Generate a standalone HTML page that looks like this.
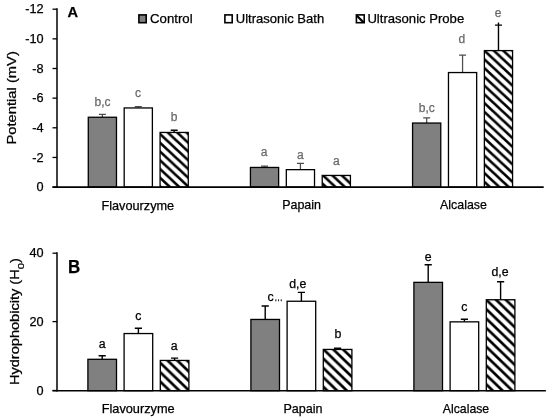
<!DOCTYPE html>
<html><head><meta charset="utf-8"><title>Chart</title>
<style>html,body{margin:0;padding:0;background:#fff}svg{display:block}text{font-family:"Liberation Sans", Arial, sans-serif;stroke:#000;stroke-width:0.25px}</style>
</head><body>
<svg width="550" height="420" viewBox="0 0 550 420">
<defs>
<pattern id="h0" patternUnits="userSpaceOnUse" x="158.33" y="132.45" width="9.4" height="8.75"><rect width="9.4" height="8.75" fill="#fff"/><path d="M-9.4,-8.75 L18.8,17.5 M-9.4,0 L9.4,17.5 M0,-8.75 L18.8,8.75" stroke="#000" stroke-width="2.6" fill="none"/></pattern>
<pattern id="h1" patternUnits="userSpaceOnUse" x="323.02" y="175.45" width="9.4" height="8.75"><rect width="9.4" height="8.75" fill="#fff"/><path d="M-9.4,-8.75 L18.8,17.5 M-9.4,0 L9.4,17.5 M0,-8.75 L18.8,8.75" stroke="#000" stroke-width="2.6" fill="none"/></pattern>
<pattern id="h2" patternUnits="userSpaceOnUse" x="484.37" y="50.60" width="9.4" height="8.75"><rect width="9.4" height="8.75" fill="#fff"/><path d="M-9.4,-8.75 L18.8,17.5 M-9.4,0 L9.4,17.5 M0,-8.75 L18.8,8.75" stroke="#000" stroke-width="2.6" fill="none"/></pattern>
<pattern id="h3" patternUnits="userSpaceOnUse" x="157.80" y="360.45" width="9.75" height="9.4"><rect width="9.75" height="9.4" fill="#fff"/><path d="M-9.75,-9.4 L19.5,18.8 M-9.75,0 L9.75,18.8 M0,-9.4 L19.5,9.4" stroke="#000" stroke-width="2.7" fill="none"/></pattern>
<pattern id="h4" patternUnits="userSpaceOnUse" x="323.60" y="349.45" width="9.75" height="9.4"><rect width="9.75" height="9.4" fill="#fff"/><path d="M-9.75,-9.4 L19.5,18.8 M-9.75,0 L9.75,18.8 M0,-9.4 L19.5,9.4" stroke="#000" stroke-width="2.7" fill="none"/></pattern>
<pattern id="h5" patternUnits="userSpaceOnUse" x="486.30" y="299.75" width="9.75" height="9.4"><rect width="9.75" height="9.4" fill="#fff"/><path d="M-9.75,-9.4 L19.5,18.8 M-9.75,0 L9.75,18.8 M0,-9.4 L19.5,9.4" stroke="#000" stroke-width="2.7" fill="none"/></pattern>
</defs>
<rect width="550" height="420" fill="#fff"/>
<line x1="52.5" y1="9.20" x2="57.0" y2="9.20" stroke="#000" stroke-width="1.3"/>
<text x="43.6" y="13.4" font-size="12" text-anchor="end" fill="#000" textLength="18.38" lengthAdjust="spacingAndGlyphs">-12</text>
<line x1="52.5" y1="38.85" x2="57.0" y2="38.85" stroke="#000" stroke-width="1.3"/>
<text x="43.6" y="43.05" font-size="12" text-anchor="end" fill="#000" textLength="18.38" lengthAdjust="spacingAndGlyphs">-10</text>
<line x1="52.5" y1="68.50" x2="57.0" y2="68.50" stroke="#000" stroke-width="1.3"/>
<text x="43.6" y="72.7" font-size="12" text-anchor="end" fill="#000" textLength="11.31" lengthAdjust="spacingAndGlyphs">-8</text>
<line x1="52.5" y1="98.15" x2="57.0" y2="98.15" stroke="#000" stroke-width="1.3"/>
<text x="43.6" y="102.35" font-size="12" text-anchor="end" fill="#000" textLength="11.31" lengthAdjust="spacingAndGlyphs">-6</text>
<line x1="52.5" y1="127.80" x2="57.0" y2="127.80" stroke="#000" stroke-width="1.3"/>
<text x="43.6" y="132.0" font-size="12" text-anchor="end" fill="#000" textLength="11.31" lengthAdjust="spacingAndGlyphs">-4</text>
<line x1="52.5" y1="157.45" x2="57.0" y2="157.45" stroke="#000" stroke-width="1.3"/>
<text x="43.6" y="161.65" font-size="12" text-anchor="end" fill="#000" textLength="11.31" lengthAdjust="spacingAndGlyphs">-2</text>
<line x1="52.5" y1="187.10" x2="57.0" y2="187.10" stroke="#000" stroke-width="1.3"/>
<text x="43.6" y="191.3" font-size="12" text-anchor="end" fill="#000" textLength="7.07" lengthAdjust="spacingAndGlyphs">0</text>
<path d="M102.38,117.10 V114.40 M98.88,114.40 H105.88" stroke="#4d4d4d" stroke-width="1.25" fill="none"/>
<rect x="88.28" y="117.25" width="28.20" height="69.85" fill="#808080" stroke="#000" stroke-width="1.3"/>
<path d="M138.28,107.80 V106.70 M134.78,106.70 H141.78" stroke="#4d4d4d" stroke-width="1.25" fill="none"/>
<rect x="124.18" y="107.95" width="28.20" height="79.15" fill="#fff" stroke="#000" stroke-width="1.3"/>
<path d="M174.18,132.30 V130.30 M170.68,130.30 H177.68" stroke="#000" stroke-width="1.4" fill="none"/>
<rect x="160.08" y="132.45" width="28.20" height="54.65" fill="url(#h0)" stroke="#000" stroke-width="1.3"/>
<path d="M264.53,167.30 V166.10 M261.03,166.10 H268.03" stroke="#4d4d4d" stroke-width="1.25" fill="none"/>
<rect x="250.43" y="167.45" width="28.20" height="19.65" fill="#808080" stroke="#000" stroke-width="1.3"/>
<path d="M300.43,169.50 V163.30 M296.93,163.30 H303.93" stroke="#4d4d4d" stroke-width="1.25" fill="none"/>
<rect x="286.32" y="169.65" width="28.20" height="17.45" fill="#fff" stroke="#000" stroke-width="1.3"/>
<rect x="322.22" y="175.45" width="28.20" height="11.65" fill="url(#h1)" stroke="#000" stroke-width="1.3"/>
<path d="M426.68,122.90 V117.90 M423.18,117.90 H430.18" stroke="#4d4d4d" stroke-width="1.25" fill="none"/>
<rect x="412.57" y="123.05" width="28.20" height="64.05" fill="#808080" stroke="#000" stroke-width="1.3"/>
<path d="M462.57,72.40 V55.00 M459.07,55.00 H466.07" stroke="#4d4d4d" stroke-width="1.25" fill="none"/>
<rect x="448.47" y="72.55" width="28.20" height="114.55" fill="#fff" stroke="#000" stroke-width="1.3"/>
<path d="M498.47,50.45 V25.10 M494.97,25.10 H501.97" stroke="#000" stroke-width="1.4" fill="none"/>
<path d="M498.47,25.10 V22.50" stroke="#000" stroke-width="1.4"/>
<rect x="484.37" y="50.60" width="28.20" height="136.50" fill="url(#h2)" stroke="#000" stroke-width="1.3"/>
<line x1="57.0" y1="8.35" x2="57.0" y2="187.79999999999998" stroke="#000" stroke-width="1.5"/>
<line x1="52.5" y1="187.1" x2="543.7" y2="187.1" stroke="#000" stroke-width="1.6"/>
<text x="102.5" y="106" font-size="12.0" text-anchor="middle" fill="#696969" style="stroke:#696969">b,c</text>
<text x="138" y="97" font-size="12.0" text-anchor="middle" fill="#696969" style="stroke:#696969">c</text>
<text x="174" y="121.2" font-size="12.0" text-anchor="middle" fill="#696969" style="stroke:#696969">b</text>
<text x="264.2" y="156.4" font-size="12.0" text-anchor="middle" fill="#696969" style="stroke:#696969">a</text>
<text x="300.3" y="159.2" font-size="12.0" text-anchor="middle" fill="#696969" style="stroke:#696969">a</text>
<text x="336.3" y="164.7" font-size="12.0" text-anchor="middle" fill="#696969" style="stroke:#696969">a</text>
<text x="426.8" y="111.9" font-size="12.0" text-anchor="middle" fill="#696969" style="stroke:#696969">b,c</text>
<text x="461.8" y="43" font-size="12.0" text-anchor="middle" fill="#696969" style="stroke:#696969">d</text>
<text x="498" y="16.9" font-size="12.0" text-anchor="middle" fill="#696969" style="stroke:#696969">e</text>
<text x="101.4" y="209.5" font-size="12.8" text-anchor="start" fill="#000" textLength="72.8" lengthAdjust="spacingAndGlyphs">Flavourzyme</text>
<text x="282.2" y="209.3" font-size="12.8" text-anchor="start" fill="#000" textLength="38.8" lengthAdjust="spacingAndGlyphs">Papain</text>
<text x="440.1" y="209.3" font-size="12.8" text-anchor="start" fill="#000" textLength="46.8" lengthAdjust="spacingAndGlyphs">Alcalase</text>
<rect x="138.90" y="14.90" width="7.30" height="7.80" fill="#808080" stroke="#000" stroke-width="1.6"/>
<text x="150.0" y="22.6" font-size="12.8" text-anchor="start" fill="#000" textLength="42.6" lengthAdjust="spacingAndGlyphs">Control</text>
<rect x="224.90" y="14.90" width="7.30" height="7.80" fill="#fff" stroke="#000" stroke-width="1.6"/>
<text x="235.8" y="22.6" font-size="12.8" text-anchor="start" fill="#000" textLength="88.4" lengthAdjust="spacingAndGlyphs">Ultrasonic Bath</text>
<rect x="356.40" y="14.90" width="7.80" height="7.80" fill="#fff" stroke="#000" stroke-width="1.6"/>
<path d="M356.4,14.9 L357.7,14.9 L364.2,21.4 L364.2,22.7 L362.3,22.7 L356.4,16.8 Z" fill="#000"/>
<text x="367.4" y="22.6" font-size="12.8" text-anchor="start" fill="#000" textLength="96.8" lengthAdjust="spacingAndGlyphs">Ultrasonic Probe</text>
<text transform="translate(15.5,144.5) rotate(-90)" font-size="12.7" textLength="93.3" lengthAdjust="spacingAndGlyphs">Potential (mV)</text>
<text x="67.4" y="17" font-size="14.6" text-anchor="start" fill="#000" font-weight="bold">A</text>
<line x1="52.5" y1="253.20" x2="57.0" y2="253.20" stroke="#000" stroke-width="1.3"/>
<text x="43.6" y="257.4" font-size="12" text-anchor="end" fill="#000" textLength="14.14" lengthAdjust="spacingAndGlyphs">40</text>
<line x1="52.5" y1="321.60" x2="57.0" y2="321.60" stroke="#000" stroke-width="1.3"/>
<text x="43.6" y="325.8" font-size="12" text-anchor="end" fill="#000" textLength="14.14" lengthAdjust="spacingAndGlyphs">20</text>
<line x1="52.5" y1="390.50" x2="57.0" y2="390.50" stroke="#000" stroke-width="1.3"/>
<text x="43.6" y="394.7" font-size="12" text-anchor="end" fill="#000" textLength="7.07" lengthAdjust="spacingAndGlyphs">0</text>
<path d="M102.20,359.15 V355.70 M98.60,355.70 H105.80" stroke="#000" stroke-width="1.4" fill="none"/>
<rect x="87.90" y="359.30" width="28.60" height="31.40" fill="#808080" stroke="#000" stroke-width="1.3"/>
<path d="M138.40,333.40 V328.30 M134.80,328.30 H142.00" stroke="#000" stroke-width="1.4" fill="none"/>
<rect x="124.10" y="333.55" width="28.60" height="57.15" fill="#fff" stroke="#000" stroke-width="1.3"/>
<path d="M174.60,360.30 V358.10 M171.00,358.10 H178.20" stroke="#000" stroke-width="1.4" fill="none"/>
<rect x="160.30" y="360.45" width="28.60" height="30.25" fill="url(#h3)" stroke="#000" stroke-width="1.3"/>
<path d="M265.20,319.30 V306.00 M261.60,306.00 H268.80" stroke="#000" stroke-width="1.4" fill="none"/>
<rect x="250.90" y="319.45" width="28.60" height="71.25" fill="#808080" stroke="#000" stroke-width="1.3"/>
<path d="M301.40,301.10 V292.40 M297.80,292.40 H305.00" stroke="#000" stroke-width="1.4" fill="none"/>
<rect x="287.10" y="301.25" width="28.60" height="89.45" fill="#fff" stroke="#000" stroke-width="1.3"/>
<path d="M337.60,349.30 V348.30 M334.00,348.30 H341.20" stroke="#000" stroke-width="1.4" fill="none"/>
<rect x="323.30" y="349.45" width="28.60" height="41.25" fill="url(#h4)" stroke="#000" stroke-width="1.3"/>
<path d="M428.20,282.20 V264.80 M424.60,264.80 H431.80" stroke="#000" stroke-width="1.4" fill="none"/>
<rect x="413.90" y="282.35" width="28.60" height="108.35" fill="#808080" stroke="#000" stroke-width="1.3"/>
<path d="M464.40,321.70 V319.20 M460.80,319.20 H468.00" stroke="#000" stroke-width="1.4" fill="none"/>
<rect x="450.10" y="321.85" width="28.60" height="68.85" fill="#fff" stroke="#000" stroke-width="1.3"/>
<path d="M500.60,299.60 V281.70 M497.00,281.70 H504.20" stroke="#000" stroke-width="1.4" fill="none"/>
<rect x="486.30" y="299.75" width="28.60" height="90.95" fill="url(#h5)" stroke="#000" stroke-width="1.3"/>
<line x1="57.0" y1="252.35" x2="57.0" y2="391.4" stroke="#000" stroke-width="1.5"/>
<line x1="52.5" y1="390.7" x2="545.9" y2="390.7" stroke="#000" stroke-width="1.6"/>
<text x="102.1" y="348.3" font-size="12.3" text-anchor="middle" fill="#000">a</text>
<text x="138.4" y="320.2" font-size="12.3" text-anchor="middle" fill="#000">c</text>
<text x="174.2" y="349.5" font-size="12.3" text-anchor="middle" fill="#000">a</text>
<text x="297.8" y="288" font-size="12.3" text-anchor="middle" fill="#000">d,e</text>
<text x="337.8" y="338.0" font-size="12.3" text-anchor="middle" fill="#000">b</text>
<text x="428.2" y="260.5" font-size="12.3" text-anchor="middle" fill="#000">e</text>
<text x="464.4" y="311" font-size="12.3" text-anchor="middle" fill="#000">c</text>
<text x="500.0" y="276.2" font-size="12.3" text-anchor="middle" fill="#000">d,e</text>
<text x="267.5" y="301" font-size="12.3">c<tspan dx="0.6" textLength="8.6" lengthAdjust="spacingAndGlyphs">…</tspan></text>
<text x="101.7" y="412.7" font-size="12.8" text-anchor="start" fill="#000" textLength="73" lengthAdjust="spacingAndGlyphs">Flavourzyme</text>
<text x="283.4" y="412.5" font-size="12.8" text-anchor="start" fill="#000" textLength="39.2" lengthAdjust="spacingAndGlyphs">Papain</text>
<text x="442.8" y="412.7" font-size="12.8" text-anchor="start" fill="#000" textLength="46.4" lengthAdjust="spacingAndGlyphs">Alcalase</text>
<text transform="translate(18.7,385.1) rotate(-90)" font-size="12.6" textLength="127" lengthAdjust="spacingAndGlyphs">Hydrophobicity (H<tspan font-size="9.8" dy="4.8">0</tspan><tspan dy="-4.8">)</tspan></text>
<text x="68.0" y="273.0" font-size="18" text-anchor="start" fill="#000" font-weight="bold" textLength="12.2" lengthAdjust="spacingAndGlyphs">B</text>
</svg>
</body></html>
